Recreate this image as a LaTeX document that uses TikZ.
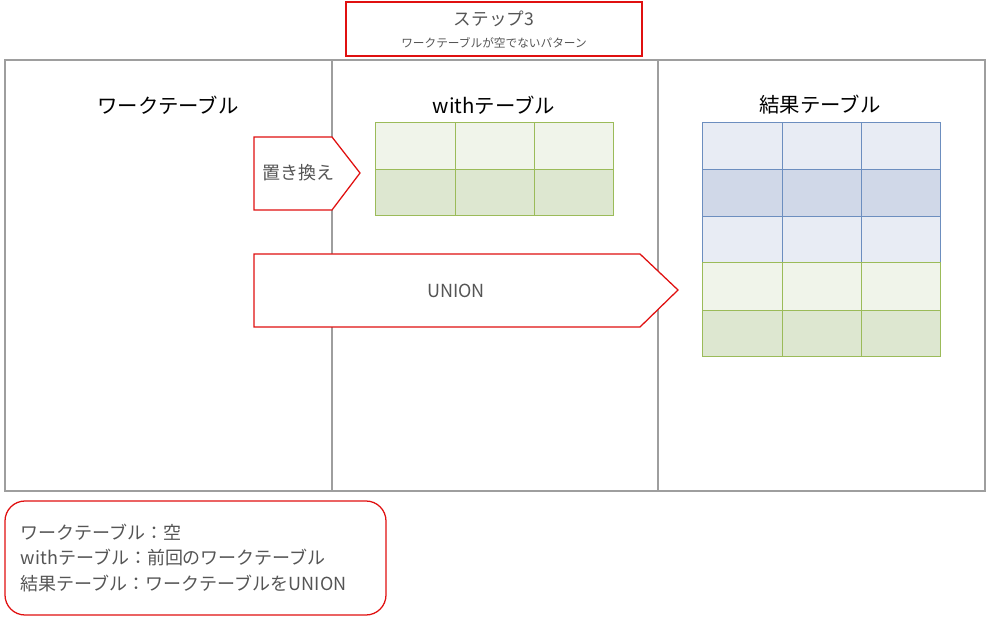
\documentclass[tikz,border=0pt]{standalone}
\usepackage{fontspec}
\setmainfont{Noto Sans CJK JP}
\definecolor{boxred}{HTML}{E01010}
\definecolor{panelgray}{HTML}{9E9E9E}
\definecolor{txtgray}{HTML}{555555}
\definecolor{grnline}{HTML}{9BBB59}
\definecolor{grnA}{HTML}{F0F4EA}
\definecolor{grnB}{HTML}{DDE7D0}
\definecolor{bluline}{HTML}{6C8EBF}
\definecolor{bluA}{HTML}{E8ECF4}
\definecolor{bluB}{HTML}{D0D8E8}
\tikzset{
  redbox/.style={draw=boxred, line width=0.9pt},
  heading/.style={font=\fontsize{14.5}{16}\selectfont, text=black},
  graytext/.style={text=txtgray, font=\fontsize{12.8}{15}\selectfont},
  cell/.style={draw=#1, line width=0.7pt}
}
\begin{document}
\begin{tikzpicture}[x=0.025cm, y=-0.025cm]
\useasboundingbox (0,0) rectangle (992,622);
% title
\draw[redbox] (346,2) rectangle (642,56);
\node[text=txtgray, font=\fontsize{12.5}{14}\selectfont] (title) at (494,19) {ステップ3};
\node[text=txtgray, font=\fontsize{8.3}{10}\selectfont] (subtitle) at (494,43) {ワークテーブルが空でないパターン};
% panel
\draw[panelgray, line width=0.8pt] (5,60) rectangle (985,491);
\draw[panelgray, line width=0.8pt] (332,60) -- (332,491);
\draw[panelgray, line width=0.8pt] (658,60) -- (658,491);
\node[heading] (work) at (168,105) {ワークテーブル};
\node[heading] (with) at (494,105) {withテーブル};
\node[heading] (result) at (820,105) {結果テーブル};
% with table
\foreach \ya/\yb/\fc in {122/169/grnA, 169/215/grnB}
  \foreach \xa/\xb in {375/455, 455/534, 534/613}
    \draw[cell=grnline, fill=\fc] (\xa,\ya) rectangle (\xb,\yb);
% result table
\foreach \ya/\yb/\fc/\lc in {122/169/bluA/bluline, 169/216/bluB/bluline, 216/262/bluA/bluline, 262/310/grnA/grnline, 310/356/grnB/grnline}
  \foreach \xa/\xb in {702/782, 782/861, 861/940}
    \draw[cell=\lc, fill=\fc] (\xa,\ya) rectangle (\xb,\yb);
% arrows
\draw[redbox, fill=white] (254,137) -- (332,137) -- (360,173) -- (332,210) -- (254,210) -- cycle;
\node[graytext] (replace) at (298,173) {置き換え};
\draw[redbox, fill=white] (254,254) -- (640,254) -- (678,290) -- (640,327) -- (254,327) -- cycle;
\node[graytext] (union) at (456,291) {UNION};
% note
\draw[redbox, rounded corners=0.5cm] (5,501) rectangle (386,615);
\node[graytext, anchor=west, align=left] (note) at (16,558) {ワークテーブル：空\\[3pt]withテーブル：前回のワークテーブル\\[3pt]結果テーブル：ワークテーブルをUNION};
\end{tikzpicture}
\end{document}
